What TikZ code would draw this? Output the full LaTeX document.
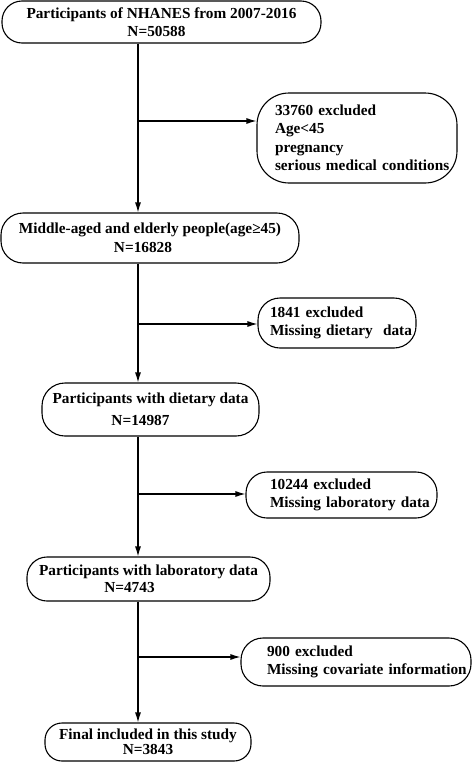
\documentclass[tikz,border=0pt]{standalone}
\usepackage{fontspec}
\setmainfont{Liberation Serif}
\usetikzlibrary{arrows.meta}
\hfuzz=200pt
\hbadness=10000
\begin{document}
\begin{tikzpicture}[x=1pt,y=-1pt,
  box/.style={draw, line width=1.1pt, rounded corners=#1, inner sep=0pt,
    font=\bfseries\fontsize{15.3}{18.5}\selectfont},
  box/.default=20pt,
  mainbox/.style={box=#1, align=center},
  mainbox/.default=20pt,
  sidebox/.style={box=#1, align=left},
  sidebox/.default=21pt,
  arr/.style={line width=1.1pt, -{Latex[length=10pt,width=6pt]}},
]
\useasboundingbox (0,0) rectangle (474,763);
\coordinate (spine) at (138,0);

% main boxes
\node[mainbox, minimum width=319pt, minimum height=42pt] (b1) at (161.5,22)
  {Participants of NHANES from 2007-2016\\N=50588\hspace*{10pt}};
\node[mainbox=22pt, minimum width=298pt, minimum height=50pt] (b3) at (150,238)
  {Middle-aged and elderly people(age≥45)\\N=16828\hspace*{14pt}};
\node[mainbox=23pt, minimum width=217pt, minimum height=53pt] (b5) at (150.5,409.5)
  {Participants with dietary data\\[4pt]N=14987\hspace*{20pt}};
\node[mainbox, minimum width=243pt, minimum height=44pt] (b7) at (148.5,579)
  {Participants with laboratory data\\[-1pt]N=4743\hspace*{38pt}};
\node[mainbox=17pt, minimum width=206pt, minimum height=38pt] (b9) at (148,742)
  {Final included in this study\\[-3pt]N=3843};

% side boxes
\node[sidebox=32pt, minimum width=200pt, minimum height=90pt, text width=164pt] (b2) at (357,138)
  {\mbox{33760 excluded}\\\mbox{Age<45}\\\mbox{pregnancy}\\\mbox{serious medical conditions}};
\node[sidebox=22pt, minimum width=158pt, minimum height=50pt, text width=134pt] (b4) at (337,323)
  {\mbox{1841 excluded}\\\mbox{Missing dietary\ \ data}};
\node[sidebox, minimum width=191pt, minimum height=46pt, text width=143pt] (b6) at (341.5,495)
  {\mbox{10244 excluded}\\\mbox{Missing laboratory data}};
\node[sidebox=22pt, minimum width=230pt, minimum height=48pt, text width=178pt] (b8) at (356,662)
  {\mbox{900 excluded}\\\mbox{Missing covariate information}};

% vertical flow
\draw[arr] (b1.south -| spine) -- (b3.north -| spine);
\draw[arr] (b3.south -| spine) -- (b5.north -| spine);
\draw[arr] (b5.south -| spine) -- (b7.north -| spine);
\draw[arr] (b7.south -| spine) -- (b9.north -| spine);

% exclusion branches
\coordinate (j1) at (138,121);
\coordinate (j2) at (138,324);
\coordinate (j3) at (138,494);
\coordinate (j4) at (138,657);
\draw[arr] (j1) -- (j1 -| b2.west);
\draw[arr] (j2) -- (j2 -| b4.west);
\draw[arr] (j3) -- (j3 -| b6.west);
\draw[arr] (j4) -- (j4 -| b8.west);
\end{tikzpicture}
\end{document}
